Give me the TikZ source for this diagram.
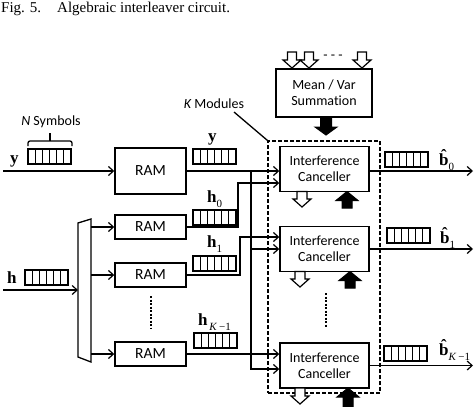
\documentclass[tikz,border=0pt]{standalone}
\usepackage{fontspec}
\setmainfont{Liberation Serif}
\newfontfamily\calfont[Ligatures=NoCommon]{Carlito}
\usetikzlibrary{arrows.meta,calc}
\newcommand\queue[2]{%
  \draw[qline] (#1,#2) rectangle ++(43,15);
  \foreach \i in {1,...,5} \draw[qline] ({#1+\i*43/6},#2) -- ++(0,15);}
\newcommand\arrdown[7]{% x, ytop, ytip, shafthalf, headhalf, headlen, style
  \draw[#7] ({#1-#4},#2) -- ({#1+#4},#2) -- ({#1+#4},{#3-#6}) -- ({#1+#5},{#3-#6})
    -- (#1,#3) -- ({#1-#5},{#3-#6}) -- ({#1-#4},{#3-#6}) -- cycle;}
\newcommand\arrup[7]{% x, ytip, ybase, shafthalf, headhalf, headlen, style
  \draw[#7] ({#1-#4},#3) -- ({#1+#4},#3) -- ({#1+#4},{#2+#6}) -- ({#1+#5},{#2+#6})
    -- (#1,#2) -- ({#1-#5},{#2+#6}) -- ({#1-#4},{#2+#6}) -- cycle;}
\newcommand\sbs[1]{\raisebox{-5pt}{\fontsize{11}{11}\selectfont\mdseries #1}}
\begin{document}
\begin{tikzpicture}[x=1pt,y=-1pt,
  ln/.style={line width=1.3pt},
  qline/.style={line width=1.2pt},
  arr/.style={ln,-{Straight Barb[length=5pt,width=9pt,line width=1.2pt]}},
  box/.style={draw,line width=1.4pt,inner sep=0pt,align=center,
    font=\calfont\fontsize{14}{16}\selectfont},
  ram/.style={box,minimum width=71pt,minimum height=24pt,font=\calfont\fontsize{15.5}{16}\selectfont},
  ic/.style={box,minimum width=89pt,minimum height=45pt},
  lab/.style={inner sep=0pt,anchor=base west,font=\fontsize{17}{17}\selectfont\bfseries},
  sans/.style={inner sep=0pt,font=\calfont\fontsize{14}{16}\selectfont},
  hollow/.style={line width=1.2pt,fill=white},
  solid/.style={line width=1pt,fill=black},
  dots/.style={line width=1.2pt,dash pattern=on 2pt off 1.5pt}]
\useasboundingbox (0,0) rectangle (474,407);

% caption
\node[inner sep=0pt,anchor=base west,font=\fontsize{15}{15}\selectfont] (cap) at (1,12)
  {Fig. 5.\hspace{16pt}Algebraic interleaver circuit.};

% RAM blocks
\node[ram,minimum height=46pt] (ramY) at (150.5,171) {RAM};
\node[ram] (ramH0) at (150.5,227) {RAM};
\node[ram] (ramH1) at (150.5,275) {RAM};
\node[ram] (ramHK) at (150.5,354) {RAM};
\draw[dots] (151,296) -- (151,329);

% demux
\draw[ln] (78,223) -- (91,219) -- (91,362) -- (78,357) -- cycle;
\coordinate (dmIn) at (78,290);
\coordinate (dmR) at (91,290);

% inputs
\coordinate (yin) at (3,171);
\coordinate (hin) at (3,290);
\draw[arr] (yin) -- (ramY.west);
\draw[arr] (hin) -- (dmIn);
\draw[arr] (dmR |- ramH0.west) -- (ramH0.west);
\draw[arr] (dmR |- ramH1.west) -- (ramH1.west);
\draw[arr] (dmR |- ramHK.west) -- (ramHK.west);
\node[lab] (ly) at (10,163) {y};
\node[lab] (lh) at (7,283) {h};
\queue{28}{149}
\queue{25}{270}
\draw[ln,rounded corners=2pt] (28,146) -- (28,141) -- (72,141) -- (72,146);
\draw[ln] (50,141) -- (50,133);
\node[sans] (ns) at (51,122) {\itshape N\upshape\ Symbols};

% Mean / Var summation
\node[box,minimum width=96pt,minimum height=48pt] (mv) at (324,93) {Mean / Var\\Summation};
\arrdown{292}{52}{68}{4.5}{9}{8}{hollow}
\arrdown{309}{52}{68}{4.5}{9}{8}{hollow}
\arrdown{362}{52}{68}{4.5}{9}{8}{hollow}
\node[sans] (dd) at (333,57) {- - -};
\arrdown{326}{117.5}{135}{5.5}{11}{8}{solid}

% modules box
\node[draw,ln,dash pattern=on 4pt off 2pt,minimum width=112pt,minimum height=252pt,inner sep=0pt]
  (mods) at (324,267) {};
\node[sans] (kl) at (214,104) {\itshape K\upshape\ Modules};
\coordinate (kll) at (234,112);
\draw[ln] (kll) -- (mods.north west);

% interference cancellers
\node[ic] (ic0) at (324.5,169) {Interference\\Canceller};
\node[ic] (ic1) at (324.5,249) {Interference\\Canceller};
\node[ic] (icK) at (324.5,365.5) {Interference\\Canceller};
\draw[dots] (326,293) -- (326,327);

\arrdown{302}{191.5}{207}{5}{9}{8}{hollow}
\arrup{347}{191.5}{208}{5}{11}{9}{solid}
\arrdown{300}{271.5}{287}{5}{9}{8}{hollow}
\arrup{350}{271.5}{288}{5}{11}{9}{solid}
\arrdown{300}{388}{404}{5}{9}{8}{hollow}
\arrup{348}{388}{412}{5}{11}{9}{solid}

% connections to cancellers
\draw[arr] (ramY.east) -- (ramY.east -| ic0.west);
\coordinate (yv) at (251,171);
\coordinate (yvK) at (251,369);
\draw[arr] (yv) |- (ic1.west);
\draw[arr] (yv) -- (yvK) -- (yvK -| icK.west);
\coordinate (h0v) at (238,183);
\draw[arr] (ramH0.east) -| (h0v) -- (h0v -| ic0.west);
\coordinate (h1v) at (240,237);
\draw[arr] (ramH1.east) -| (h1v) -- (h1v -| ic1.west);
\draw[arr] (ramHK.east) -- (ramHK.east -| icK.west);

\queue{193}{149}
\queue{193}{210}
\queue{193}{256}
\queue{194}{333}
\node[lab] (ly2) at (208,141) {y};
\node[lab] (lh0) at (207,202) {h\sbs{0}};
\node[lab] (lh1) at (207,247) {h\sbs{1}};
\node[lab] (lhK) at (198,325) {h\sbs{\,\textit{K}\,−1}};

% outputs
\coordinate (o0) at (473,171);
\coordinate (o1) at (473,249);
\coordinate (oK) at (473,365.5);
\draw[arr] (ic0.east |- o0) -- (o0);
\draw[arr] (ic1.east |- o1) -- (o1);
\draw[arr] (icK.east |- oK) -- (oK);
\queue{385}{152}
\queue{387}{228}
\queue{384}{346}
\node[lab] (lb0) at (439,165) {\^{b}\sbs{0}};
\node[lab] (lb1) at (440,243) {\^{b}\sbs{1}};
\node[lab] (lbK) at (439,355) {\^{b}\sbs{\textit{K}\,−1}};
\end{tikzpicture}
\end{document}
